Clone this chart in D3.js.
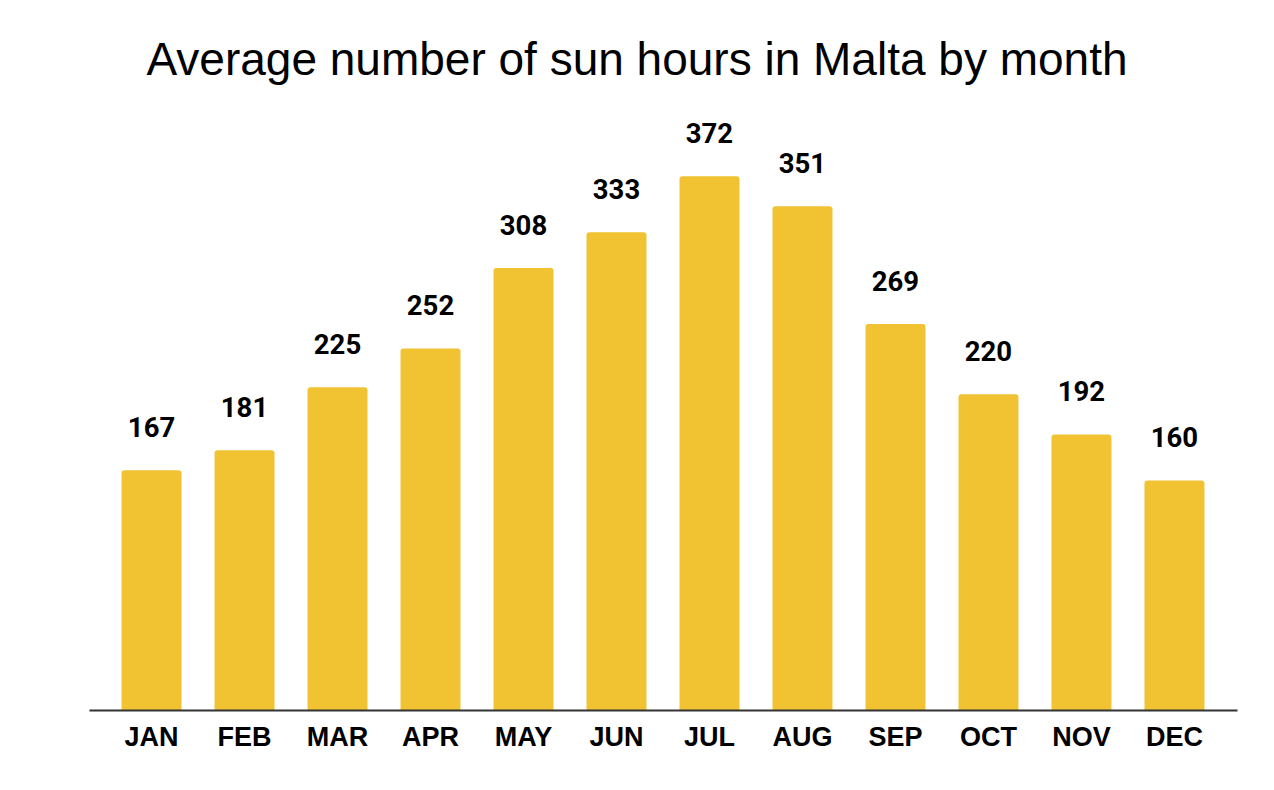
<!DOCTYPE html>
<html>
<head>
<meta charset="utf-8">
<script src="https://cdn.jsdelivr.net/npm/d3@7"></script>
<style>
  html, body { margin: 0; padding: 0; background: #ffffff; }
  svg { display: block; }
</style>
</head>
<body>
<div id="chart"></div>
<script>
// Average sun hours in Malta, by month
const months = ['JAN', 'FEB', 'MAR', 'APR', 'MAY', 'JUN', 'JUL', 'AUG', 'SEP', 'OCT', 'NOV', 'DEC'];
const sunHours = [167, 181, 225, 252, 308, 333, 372, 351, 269, 220, 192, 160];
const chartTitle = 'Average number of sun hours in Malta by month';

const width = 1274;
const height = 790;
const margin = { top: 136, right: 37, bottom: 80, left: 89 };
const barColor = '#f1c232';

const svg = d3.select('#chart')
    .append('svg')
    .attr('width', width)
    .attr('height', height);

const x = d3.scaleBand()
    .domain(months)
    .range([margin.left, width - margin.right])
    .paddingInner(0.355)
    .paddingOuter(0.35);

const y = d3.scaleLinear()
    .domain([0, 400])
    .range([height - margin.bottom, margin.top]);

// bars with slightly rounded tops
const radius = 3;
function barPath(d, i) {
    const x0 = x(months[i]);
    const w = x.bandwidth();
    const y0 = y(0);
    const y1 = y(d);
    return `M${x0},${y0}V${y1 + radius}Q${x0},${y1} ${x0 + radius},${y1}` +
        `H${x0 + w - radius}Q${x0 + w},${y1} ${x0 + w},${y1 + radius}V${y0}Z`;
}

svg.append('g')
    .selectAll('path')
    .data(sunHours)
    .join('path')
    .attr('d', barPath)
    .attr('fill', barColor);

// value labels
svg.append('g')
    .selectAll('text')
    .data(sunHours)
    .join('text')
    .attr('x', (d, i) => x(months[i]) + x.bandwidth() / 2)
    .attr('y', d => y(d) - 33)
    .attr('text-anchor', 'middle')
    .attr('font-family', 'Roboto, sans-serif')
    .attr('font-weight', 700)
    .attr('font-size', '27.5px')
    .attr('fill', '#000')
    .text(d => d);

// x axis
const xAxis = d3.axisBottom(x).tickSize(0).tickPadding(17);
const axisG = svg.append('g')
    .attr('transform', `translate(0, ${y(0)})`)
    .call(xAxis);

axisG.select('.domain')
    .attr('stroke', '#333')
    .attr('stroke-width', 2);

axisG.selectAll('text')
    .attr('font-family', '"Liberation Sans", Arial, sans-serif')
    .attr('font-weight', 700)
    .attr('font-size', '27px')
    .attr('fill', '#000');

// title
svg.append('text')
    .attr('x', width / 2)
    .attr('y', 75)
    .attr('text-anchor', 'middle')
    .attr('font-family', '"Liberation Sans", Arial, sans-serif')
    .attr('font-size', '46px')
    .attr('fill', '#000')
    .text(chartTitle);
</script>
</body>
</html>
